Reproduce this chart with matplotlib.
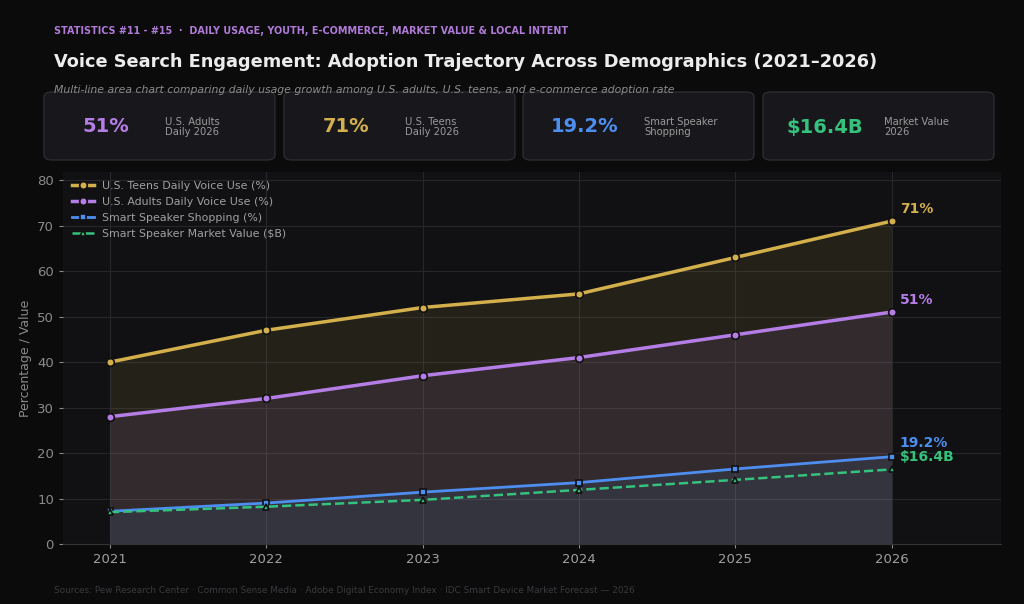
import matplotlib.pyplot as plt
from matplotlib.patches import FancyBboxPatch

years = [2021, 2022, 2023, 2024, 2025, 2026]
teens = [40, 47, 52, 55, 63, 71]
adults = [28, 32, 37, 41, 46, 51]
shopping = [7.2, 9.0, 11.4, 13.5, 16.5, 19.2]
market = [7.0, 8.2, 9.7, 11.9, 14.1, 16.4]

card_values = ['51%', '71%', '19.2%', '$16.4B']
card_labels = ['U.S. Adults\nDaily 2026', 'U.S. Teens\nDaily 2026',
               'Smart Speaker\nShopping', 'Market Value\n2026']

GOLD = '#d4b04c'
PURPLE = '#b47ee6'
BLUE = '#4d8ef0'
GREEN = '#35c27c'
card_colors = [PURPLE, GOLD, BLUE, GREEN]

fig = plt.figure(figsize=(10.24, 6.04), dpi=100, facecolor='#0b0b0c')

# header
fig.text(0.053, 0.948, 'STATISTICS #11 - #15  ·  DAILY USAGE, YOUTH, E-COMMERCE, MARKET VALUE & LOCAL INTENT',
         color='#b07ad8', fontsize=6.9, fontweight='bold', va='center')
fig.text(0.053, 0.898, 'Voice Search Engagement: Adoption Trajectory Across Demographics (2021\u20132026)',
         color='#ececec', fontsize=12.8, fontweight='bold', va='center')
fig.text(0.053, 0.851, 'Multi-line area chart comparing daily usage growth among U.S. adults, U.S. teens, and e-commerce adoption rate',
         color='#8a8a8a', fontsize=7.8, style='italic', va='center')

# stat cards
card_x = [44, 284, 523, 763]
for cx, val, lab, col in zip(card_x, card_values, card_labels, card_colors):
    x0 = cx / 1024
    y0 = 1 - 160 / 604
    w = 231 / 1024
    h = 68 / 604
    box = FancyBboxPatch((x0, y0), w, h, boxstyle='round,pad=0,rounding_size=0.008',
                         transform=fig.transFigure, facecolor='#18181c',
                         edgecolor='#2b2b31', linewidth=1)
    fig.patches.append(box)
    fig.text((cx + 62) / 1024, 1 - 127 / 604, val, color=col, fontsize=14,
             fontweight='bold', ha='center', va='center')
    fig.text((cx + 121) / 1024, 1 - 127 / 604, lab, color='#9a9a9a', fontsize=7.2,
             ha='left', va='center', linespacing=1.05)

ax = fig.add_axes([63 / 1024, 1 - 544 / 604, 938 / 1024, 372 / 604])
ax.set_facecolor('#111113')

ax.fill_between(years, teens, color=GOLD, alpha=0.1, linewidth=0)
ax.fill_between(years, adults, color=PURPLE, alpha=0.1, linewidth=0)
ax.fill_between(years, shopping, color=BLUE, alpha=0.1, linewidth=0)

ax.plot(years, teens, color=GOLD, linewidth=2.5, marker='o', markersize=5.5,
        markeredgecolor='#111111', markeredgewidth=1.2, label='U.S. Teens Daily Voice Use (%)', zorder=4)
ax.plot(years, adults, color=PURPLE, linewidth=2.5, marker='o', markersize=5.5,
        markeredgecolor='#111111', markeredgewidth=1.2, label='U.S. Adults Daily Voice Use (%)', zorder=4)
ax.plot(years, shopping, color=BLUE, linewidth=2, marker='s', markersize=5,
        markeredgecolor='#111111', markeredgewidth=1.2, label='Smart Speaker Shopping (%)', zorder=4)
ax.plot(years, market, color=GREEN, linewidth=1.8, linestyle='--', marker='^', markersize=5,
        markeredgecolor='#111111', markeredgewidth=1.2, label='Smart Speaker Market Value ($B)', zorder=4)

ax.annotate('71%', (years[-1], teens[-1]), xytext=(6, 9), textcoords='offset points',
            color=GOLD, fontsize=10, fontweight='bold', va='center')
ax.annotate('51%', (years[-1], adults[-1]), xytext=(6, 9), textcoords='offset points',
            color=PURPLE, fontsize=10, fontweight='bold', va='center')
ax.annotate('19.2%', (years[-1], shopping[-1]), xytext=(6, 10), textcoords='offset points',
            color=BLUE, fontsize=10, fontweight='bold', va='center')
ax.annotate('$16.4B', (years[-1], market[-1]), xytext=(6, 9), textcoords='offset points',
            color=GREEN, fontsize=10, fontweight='bold', va='center')

ax.set_xlim(2020.7, 2026.7)
ax.set_ylim(0, 81.8)
ax.set_xticks(years)
ax.set_yticks(range(0, 81, 10))
ax.grid(True, color='#26262b', linewidth=0.8)
ax.set_axisbelow(True)
ax.tick_params(colors='#8a8a8a', labelsize=9.5, length=3)
ax.tick_params(axis='x', labelcolor='#a0a0a0')
for s in ax.spines.values():
    s.set_visible(False)
ax.spines['bottom'].set_visible(True)
ax.spines['bottom'].set_color('#333338')
ax.set_ylabel('Percentage / Value', color='#8a8a8a', fontsize=9)

leg = ax.legend(loc='upper left', frameon=False, fontsize=7.9, labelcolor='#a0a0a0',
                handlelength=2.0, borderaxespad=0.4, labelspacing=0.55)

fig.text(0.053, 0.023, 'Sources: Pew Research Center · Common Sense Media · Adobe Digital Economy Index · IDC Smart Device Market Forecast \u2014 2026',
         color='#3a3a3e', fontsize=6.4, va='center')

fig.savefig('out.png', dpi=100, facecolor=fig.get_facecolor())
